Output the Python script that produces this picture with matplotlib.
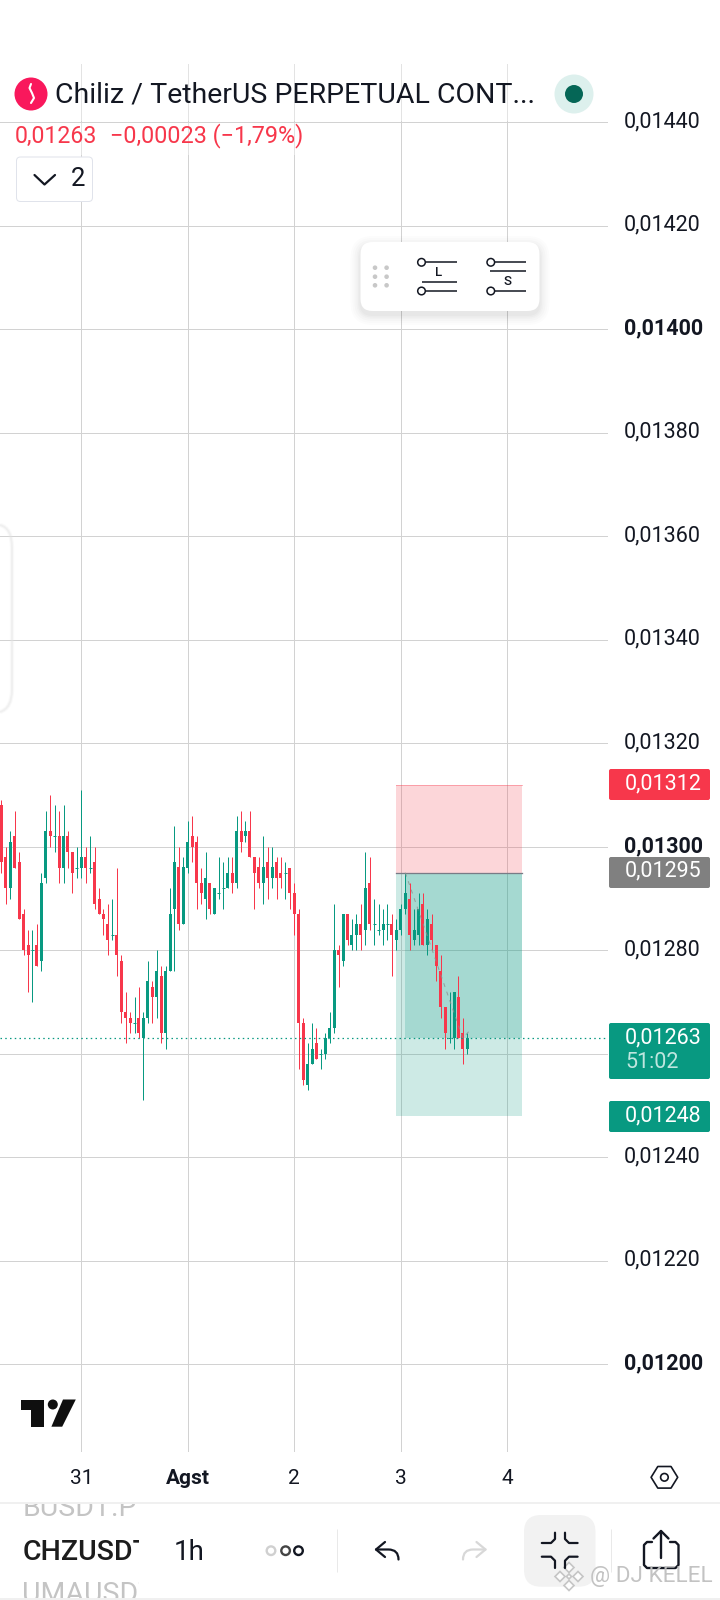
import numpy as np
import matplotlib
matplotlib.use("Agg")
import matplotlib.pyplot as plt
from matplotlib.patches import FancyBboxPatch, Rectangle, Circle, Polygon, PathPatch
from matplotlib.path import Path
from matplotlib.transforms import ScaledTranslation

plt.rcParams['font.family'] = ['Roboto', 'DejaVu Sans']

# ---- data (prices in units of 0.00001) ----
opens = [1308,1298,1292,1302,1297,1287,1281,1280,1281,1278,1294,1303,1302,1302,1296,1302,1299,1296,1296,
         1298,1296,1297,1290,1287,1285,1283,1283,1278,1268,1267,1266,1267,1263,1267,1273,1271,1275,1264,1276,
         1288,1296,1285,1296,1302,1301,1293,1290,1293,1287,1291,1292,1292,1295,1293,1303,1302,1303,1298,1296,
         1293,1297,1294,1297,1295,1295,1296,1291,1287,1266,1254,1258,1262,1260,1260,1263,1265,1280,1278,1287,
         1281,1283,1285,1284,1293,1285,1284,1284,1285,1285,1282,1284,1288,1290,1282,1283,1289,1281,1285,1281,
         1276,1269,1263,1263,1271,1264,1261]
closes = [1297,1292,1301,1296,1286,1280,1279,1280,1277,1293,1303,1302,1302,1296,1302,1299,1295,1296,1298,
          1296,1296,1289,1287,1286,1282,1283,1279,1268,1267,1266,1266,1264,1267,1274,1271,1276,1264,1276,1287,
          1297,1285,1296,1301,1300,1293,1291,1294,1288,1292,1291,1292,1295,1293,1303,1301,1303,1298,1295,1293,
          1296,1294,1296,1294,1294,1295,1291,1287,1266,1255,1258,1261,1259,1260,1263,1265,1280,1279,1287,1282,
          1283,1285,1283,1292,1285,1285,1284,1285,1285,1283,1284,1288,1291,1283,1284,1288,1281,1286,1282,1277,
          1269,1264,1263,1272,1263,1261,1263]
highs = [1309,1300,1303,1307,1299,1288,1284,1284,1285,1295,1307,1310,1308,1307,1308,1303,1299,1300,1311,
         1300,1302,1300,1292,1288,1289,1290,1296,1279,1272,1268,1271,1273,1268,1278,1274,1280,1277,1277,1292,
         1304,1300,1298,1305,1306,1302,1296,1299,1293,1292,1298,1297,1298,1298,1306,1307,1305,1307,1298,1298,
         1302,1300,1300,1298,1298,1297,1296,1293,1288,1267,1262,1266,1265,1261,1264,1268,1289,1281,1287,1287,
         1286,1287,1289,1299,1298,1290,1289,1288,1289,1287,1286,1289,1295,1293,1288,1291,1291,1288,1287,1281,
         1279,1269,1272,1272,1275,1267,1264]
lows = [1295,1289,1290,1296,1286,1279,1272,1270,1277,1276,1293,1300,1299,1293,1293,1296,1291,1294,1294,
        1293,1295,1288,1287,1283,1279,1282,1275,1266,1262,1264,1264,1263,1251,1266,1266,1267,1262,1261,1276,
        1276,1284,1285,1295,1297,1288,1289,1286,1287,1287,1290,1288,1292,1291,1292,1299,1301,1298,1288,1292,
        1289,1290,1292,1290,1292,1290,1288,1283,1257,1254,1253,1258,1259,1257,1259,1262,1264,1273,1277,1281,
        1280,1280,1280,1281,1284,1281,1283,1281,1282,1275,1280,1283,1287,1280,1281,1281,1281,1279,1280,1274,
        1267,1261,1262,1261,1263,1258,1260]
first_bar = -18
price_ticks = [1200,1220,1240,1260,1280,1300,1320,1340,1360,1380,1400,1420,1440]
price_labels = ['0,01200','0,01220','0,01240','','0,01280','0,01300','0,01320','0,01340','0,01360','0,01380','0,01400','0,01420','0,01440']
bold_prices = [1200,1300,1400]
date_ticks = [0,24,48,72,96]
date_labels = ['31','Agst','2','3','4']
stop_price, entry_price, target_price, last_price = 1312, 1295, 1248, 1263
entry_bar, box_left, box_right = 73, 70.9, 99.3
path_bars = [73, 86, 88]
path_prices = [1295, 1263, 1265]

GREEN = '#089981'; RED = '#F7374B'; GRID = '#D2D2D2'; INK = '#131722'
PX = 0.72  # one pixel, in points

fig = plt.figure(figsize=(7.2, 16), dpi=100, facecolor='white')
W, H = 720.0, 1600.0
L_, R_, T_, B_ = 0, 608, 64, 1452
ax = fig.add_axes([L_/W, 1-B_/H, (R_-L_)/W, (B_-T_)/H])
x0, dx = 81.3, 4.4375
yc, dy = 846.8, 5.175
ax.set_xlim((L_-x0)/dx, (R_-x0)/dx)
ax.set_ylim(1300-(B_-yc)/dy, 1300+(yc-T_)/dy)
for s in ax.spines.values():
    s.set_visible(False)
ax.set_facecolor('white')

ax.set_yticks(price_ticks)
ax.set_yticklabels(price_labels, fontsize=15.5, color=INK)
ax.set_xticks(date_ticks)
ax.set_xticklabels(date_labels, fontsize=15, color=INK)
ax.yaxis.tick_right()
ax.tick_params(axis='both', length=0)
ax.tick_params(axis='y', pad=11.3)
ax.tick_params(axis='x', pad=12)
ax.grid(True, color=GRID, lw=PX, zorder=0)
ax.set_axisbelow(True)
shift = ScaledTranslation(0, 3.0/100, fig.dpi_scale_trans)
for lab, val in zip(ax.get_yticklabels(), price_ticks):
    lab.set_transform(lab.get_transform() + shift)
    if val in bold_prices:
        lab.set_fontweight('bold')
ax.get_xticklabels()[1].set_fontweight('bold')

# position tool boxes
ax.add_patch(Rectangle((box_left, entry_price), box_right-box_left, stop_price-entry_price,
                       facecolor='#F23645', alpha=0.2, lw=0, zorder=1))
ax.add_patch(Rectangle((box_left, target_price), box_right-box_left, entry_price-target_price,
                       facecolor=GREEN, alpha=0.2, lw=0, zorder=1))
ax.add_patch(Rectangle((entry_bar, last_price), box_right-entry_bar, entry_price-last_price,
                       facecolor=GREEN, alpha=0.2, lw=0, zorder=1))
ax.plot([box_left, box_right], [stop_price]*2, color=RED, alpha=0.35, lw=PX, zorder=1.5)
ax.plot([box_left, box_right], [entry_price]*2, color='#787B86', lw=PX*1.3, zorder=1.5)

# candles
xs = np.arange(first_bar, first_bar+len(opens))
o, c, hi, lo = map(np.array, (opens, closes, highs, lows))
cols = np.where(c > o, GREEN, np.where(c < o, RED, GREEN))
wicks = ax.vlines(xs, lo, hi, colors=cols, lw=PX, zorder=3)
wicks.set_snap(True)
mask = o != c
ax.bar(xs[mask], np.abs(c-o)[mask], bottom=np.minimum(o, c)[mask], width=0.68,
       color=cols[mask], lw=0, zorder=3.2)
dashes = ax.hlines(o[~mask], xs[~mask]-0.34, xs[~mask]+0.34, colors=cols[~mask], lw=PX, zorder=3.2)
dashes.set_snap(True)

# last price + projected path
ax.axhline(last_price, color=GREEN, lw=0.9, ls=(0, (1.2, 2.6)), zorder=3.5)
ax.plot(path_bars, path_prices, color='#8E8E8E', lw=PX, ls=(0, (4, 5)), alpha=0.8, zorder=3.6)

# ---- UI chrome in pixel coordinates ----
ui = fig.add_axes([0, 0, 1, 1], facecolor='none')
ui.set_xlim(0, W); ui.set_ylim(H, 0); ui.axis('off')

def rrect(x0_, y0_, x1_, y1_, r, **kw):
    p = FancyBboxPatch((x0_+r, y0_+r), x1_-x0_-2*r, y1_-y0_-2*r,
                       boxstyle=f"round,pad={r},rounding_size={r}", **kw)
    ui.add_patch(p)
    return p

def poly(points, color=INK, lw=1.5, **kw):
    ui.plot(*zip(*points), color=color, lw=lw, solid_capstyle=kw.pop('cap', 'round'),
            solid_joinstyle='round', **kw)

# left drawing panel edge
for w_, a_ in ((3.0, 0.2), (1.4, 0.4)):
    p = Path([(0, 525), (12, 528), (12, 548), (12, 690), (12, 708), (0, 712)],
             [Path.MOVETO, Path.CURVE3, Path.CURVE3, Path.LINETO, Path.CURVE3, Path.CURVE3])
    ui.add_patch(PathPatch(p, fc='none', ec='#E4E4E4', lw=w_, alpha=a_))

# legend
ui.add_patch(Rectangle((0, 64), 540, 57, fc='white', alpha=0.4, lw=0))
ui.add_patch(Rectangle((0, 123), 312, 32, fc='white', alpha=0.4, lw=0))
ui.add_patch(Circle((31, 94), 16.5, fc='#F9185C', lw=0))
poly([(31, 84), (29.5, 88), (32, 93), (34, 98), (31, 103)], color='white', lw=1.5)
ui.text(55, 94.5, 'Chiliz / TetherUS PERPETUAL CONT...', fontsize=20.5, color=INK, va='center', ha='left')
ui.add_patch(Circle((574, 94), 19.5, fc='#DDF0ED', lw=0))
ui.add_patch(Circle((574, 94), 9, fc='#056656', lw=0))
ui.text(14.5, 136, '0,01263', fontsize=16.7, color=RED, va='center', ha='left')
ui.text(109.5, 136, '\u22120,00023 (\u22121,79%)', fontsize=16.8, color=RED, va='center', ha='left')
rrect(16.5, 157, 92.5, 201.5, 4, fc='white', ec='#E0E3EB', lw=PX)
poly([(34.5, 175), (44.5, 184.5), (55, 175)], lw=1.6)
ui.text(78, 179, '2', fontsize=18.5, color=INK, va='center', ha='center')

# floating toolbar
for grow, a_ in ((10, 0.010), (8, 0.012), (6, 0.014), (4, 0.016), (2.5, 0.018), (1, 0.02)):
    rrect(360.5-grow, 242-grow+4, 539.5+grow, 311+grow+4, 12+grow, fc='black', alpha=a_, lw=0)
rrect(360.5, 242, 539.5, 311, 12, fc='white', lw=0)
for dot_x in (375, 386.6):
    for dot_y in (267.7, 276.7, 285.3):
        ui.add_patch(Circle((dot_x, dot_y), 2.3, fc='#C8C8C8', lw=0))
for cx, end in ((421.5, 456.8), (490.8, 525.7)):
    for cy in (262.3, 291):
        ui.add_patch(Circle((cx, cy), 3.8, fc='white', ec=INK, lw=1.1))
        poly([(cx+4, cy), (end, cy)], lw=1.1, cap='butt')
poly([(421.5, 282), (456.8, 282)], lw=1.1, cap='butt')
poly([(490.4, 271.3), (525.7, 271.3)], lw=1.1, cap='butt')
ui.text(438.5, 273, 'L', fontsize=9.5, color=INK, ha='center', va='center', fontweight='medium')
ui.text(507.8, 281.5, 'S', fontsize=9.5, color=INK, ha='center', va='center', fontweight='medium')

# price-axis badges
def badge(y0_, y1_, col):
    rrect(609, y0_, 710, y1_, 2, fc=col, lw=0, zorder=5)
badge(769, 800, RED)
badge(857, 888, '#808080')
badge(1023, 1079, GREEN)
badge(1101, 1132, GREEN)
for yy, txt in ((784, '0,01312'), (871, '0,01295'), (1037.5, '0,01263'), (1116, '0,01248')):
    ui.text(625, yy, txt, fontsize=15.5, color='white', va='center', ha='left', zorder=6)
ui.text(625, 1062.5, '51:02', fontsize=15.5, color='#BFE6DF', va='center', ha='left', zorder=6)

# TradingView logo
ui.add_patch(Polygon([(21, 1399.5), (43.6, 1399.5), (43.6, 1426.7), (31.2, 1426.7), (31.2, 1410.3), (21, 1410.3)],
                     fc='#0F0F0F', lw=0))
ui.add_patch(Circle((52.8, 1404.5), 5, fc='#0F0F0F', lw=0))
ui.add_patch(Polygon([(63, 1399.5), (75.8, 1399.5), (62.2, 1426.7), (51.4, 1426.7)], fc='#0F0F0F', lw=0))

# settings hexagon
hx, hy = 664.4, 1477.3
ui.add_patch(Polygon([(hx-13.3, hy), (hx-6.6, hy-10.8), (hx+6.6, hy-10.8), (hx+13.3, hy),
                      (hx+6.6, hy+10.8), (hx-6.6, hy+10.8)], fc='none', ec=INK, lw=1.2, joinstyle='round'))
ui.add_patch(Circle((hx, hy), 3.8, fc='none', ec=INK, lw=1.2))

# bottom toolbar
ui.add_patch(Rectangle((0, 1502), W, 2.2, fc='#F0F0F0', lw=0))
ui.add_patch(Rectangle((0, 1597.5), W, 2.5, fc='#F0F0F0', lw=0))
clip = Rectangle((0, 1504.2), 139, 93.3, transform=ui.transData, fc='none', lw=0)
ui.add_patch(clip)
for yy, txt, col, wt in ((1508.5, 'BUSDT.P', '#C4C4C4', 'normal'),
                         (1552.5, 'CHZUSDT', '#1C1C1C', 'medium'),
                         (1595, 'UMAUSDT', '#C4C4C4', 'normal')):
    t = ui.text(22.5, yy, txt, fontsize=20.5, color=col, va='center', ha='left', fontweight=wt, clip_on=True)
    t.set_clip_path(clip)
ui.text(188.7, 1552, '1h', fontsize=20, color=INK, va='center', ha='center')
for cx, ec_ in ((271, '#D0D0D0'), (285.6, '#444444'), (298.5, INK)):
    ui.add_patch(Circle((cx, 1550.7), 4.3, fc='white', ec=ec_, lw=1.7))
poly([(337, 1529), (337, 1571.7)], color='#E9E9E9', lw=PX, cap='butt')
poly([(610.6, 1529), (610.6, 1571.7)], color='#E9E9E9', lw=PX, cap='butt')

def hook(x_tip, x_end, col):
    mid = x_tip + (x_end-x_tip)*0.55
    ui.add_patch(PathPatch(Path([(x_tip, 1549.5), (mid, 1549.5), (x_end, 1549.5), (x_end, 1559.5)],
                                [Path.MOVETO, Path.LINETO, Path.CURVE3, Path.CURVE3]),
                           fc='none', ec=col, lw=1.6, capstyle='round'))
    sgn = 1 if x_end > x_tip else -1
    poly([(x_tip+sgn*9, 1542), (x_tip, 1549.5), (x_tip+sgn*9, 1557)], color=col, lw=1.6)
hook(376, 398.5, INK)
hook(485.5, 463, '#D8D8D8')

rrect(524, 1515, 595.5, 1586.7, 17, fc='#F2F2F2', lw=0)
poly([(541.8, 1543), (551, 1543), (555, 1539), (555, 1532.7)], lw=1.6)
poly([(577.6, 1543), (569, 1543), (565, 1539), (565, 1532.7)], lw=1.6)
poly([(541.8, 1556.7), (551, 1556.7), (555, 1560.7), (555, 1568)], lw=1.6)
poly([(577.6, 1556.7), (569, 1556.7), (565, 1560.7), (565, 1568)], lw=1.6)

poly([(652, 1542), (647, 1542), (644, 1545), (644, 1565), (647, 1568), (675.5, 1568), (678.5, 1565),
      (678.5, 1545), (675.5, 1542), (670, 1542)], lw=1.7)
poly([(661, 1531), (661, 1558)], lw=1.7)
poly([(653.5, 1538.5), (661, 1531), (668.5, 1538.5)], lw=1.7)

# watermark
wm = '#C0C0C0'
for ddx, ddy, s in ((0, -9, 5), (-9, 0, 5), (9, 0, 5), (0, 9, 5), (0, 0, 2.5)):
    cx, cy = 569+ddx, 1576.5+ddy
    ui.add_patch(Polygon([(cx-s, cy), (cx, cy-s), (cx+s, cy), (cx, cy+s)], fc='white', ec=wm, lw=1.2, alpha=0.9))
ui.text(590, 1576.5, '@ DJ KELEL', fontsize=16.2, color=wm, va='center', ha='left', alpha=0.95)

fig.savefig('out.png', dpi=100, facecolor='white')
